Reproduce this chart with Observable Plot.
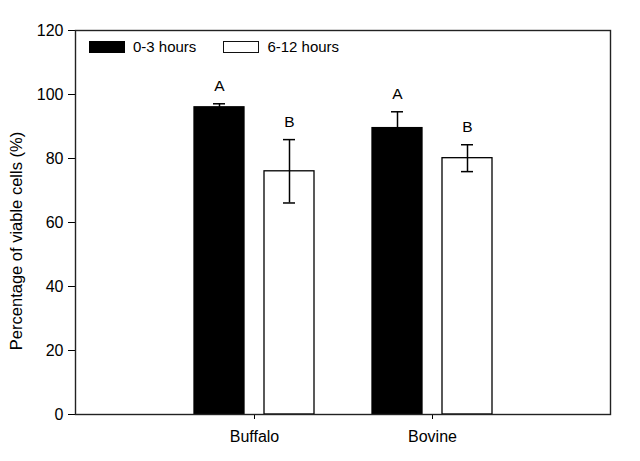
<!DOCTYPE html>
<html>
<head>
<meta charset="utf-8">
<script src="https://cdn.jsdelivr.net/npm/d3@7"></script>
<script src="https://cdn.jsdelivr.net/npm/@observablehq/plot@0.6"></script>
<style>
  html, body { margin: 0; padding: 0; background: #fff; }
  #wrap { position: relative; width: 640px; height: 461px; font-family: "Liberation Sans", Arial, sans-serif; color: #000; }
  #wrap svg { position: absolute; left: 0; top: 0; }
  .legend { position: absolute; top: 38px; left: 89px; display: flex; align-items: center; font-size: 15px; }
  .legend .item { display: flex; align-items: center; margin-right: 27px; }
  .legend .sw { width: 36px; height: 12px; box-sizing: border-box; margin-right: 8px; }
  .ylabel { position: absolute; left: 16px; top: 241px; transform: translate(-50%, -50%) rotate(-90deg); white-space: nowrap; font-size: 16.5px; }
</style>
</head>
<body>
<div id="wrap"></div>
<script>
const species = ["Buffalo", "Bovine"];
const periods = ["0-3 hours", "6-12 hours"];
const means03 = [96, 89.5];
const errs03 = [1.1, 5.1];
const means612 = [76, 80.1];
const errs612 = [9.9, 4.2];
const letters03 = ["A", "A"];
const letters612 = ["B", "B"];
const yTicks = [0, 20, 40, 60, 80, 100, 120];
const yLabel = "Percentage of viable cells (%)";

const rows03 = species.map((s, i) => ({species: s, period: periods[0], value: means03[i], err: errs03[i], letter: letters03[i]}));
const rows612 = species.map((s, i) => ({species: s, period: periods[1], value: means612[i], err: errs612[i], letter: letters612[i]}));

const font = "Liberation Sans, Arial, sans-serif";

function group(rows, fill, side) {
  const inner = side < 0 ? {insetLeft: 0, insetRight: 70} : {insetLeft: 70, insetRight: 0};
  const cap = side < 0 ? {insetLeft: 19, insetRight: 89} : {insetLeft: 89, insetRight: 19};
  const dx = side * 35;
  return [
    Plot.barY(rows, {x: "species", y: "value", fill, stroke: "#000", strokeWidth: 1.3, ...inner}),
    Plot.ruleX(rows, {x: "species", y1: d => d.value - d.err, y2: d => d.value + d.err, dx, stroke: "#000", strokeWidth: 1.5}),
    Plot.tickY(rows, {x: "species", y: d => d.value + d.err, stroke: "#000", strokeWidth: 1.5, ...cap}),
    Plot.tickY(rows, {x: "species", y: d => d.value - d.err, stroke: "#000", strokeWidth: 1.5, ...cap}),
    Plot.text(rows, {x: "species", y: d => d.value + d.err, text: "letter", dx, dy: -18, fontSize: 15.5, fill: "#000"})
  ];
}

const chart = Plot.plot({
  width: 640,
  height: 461,
  marginLeft: 75,
  marginRight: 30,
  marginTop: 30,
  marginBottom: 47,
  style: {fontFamily: font, fontSize: "16px", color: "#000", background: "#fff", overflow: "visible"},
  x: {domain: species, paddingInner: 0.327, paddingOuter: 0.6635, tickSize: 5, tickPadding: 11, label: null},
  y: {domain: [0, 120], ticks: yTicks, tickSize: 7, tickPadding: 5, label: null},
  marks: [
    ...group(rows03, "#000", -1),
    ...group(rows612, "#fff", 1),
    Plot.frame({stroke: "#222", strokeWidth: 1.4})
  ]
});

const wrap = document.getElementById("wrap");
wrap.appendChild(chart);

const legend = document.createElement("div");
legend.className = "legend";
[["#000", "#000"], ["#fff", "#111"]].forEach(([f, s], i) => {
  const item = document.createElement("div");
  item.className = "item";
  const sw = document.createElement("span");
  sw.className = "sw";
  sw.style.background = f;
  sw.style.border = "1.3px solid " + s;
  const t = document.createElement("span");
  t.textContent = periods[i];
  item.appendChild(sw);
  item.appendChild(t);
  legend.appendChild(item);
});
wrap.appendChild(legend);

const yl = document.createElement("div");
yl.className = "ylabel";
yl.textContent = yLabel;
wrap.appendChild(yl);
</script>
</body>
</html>
